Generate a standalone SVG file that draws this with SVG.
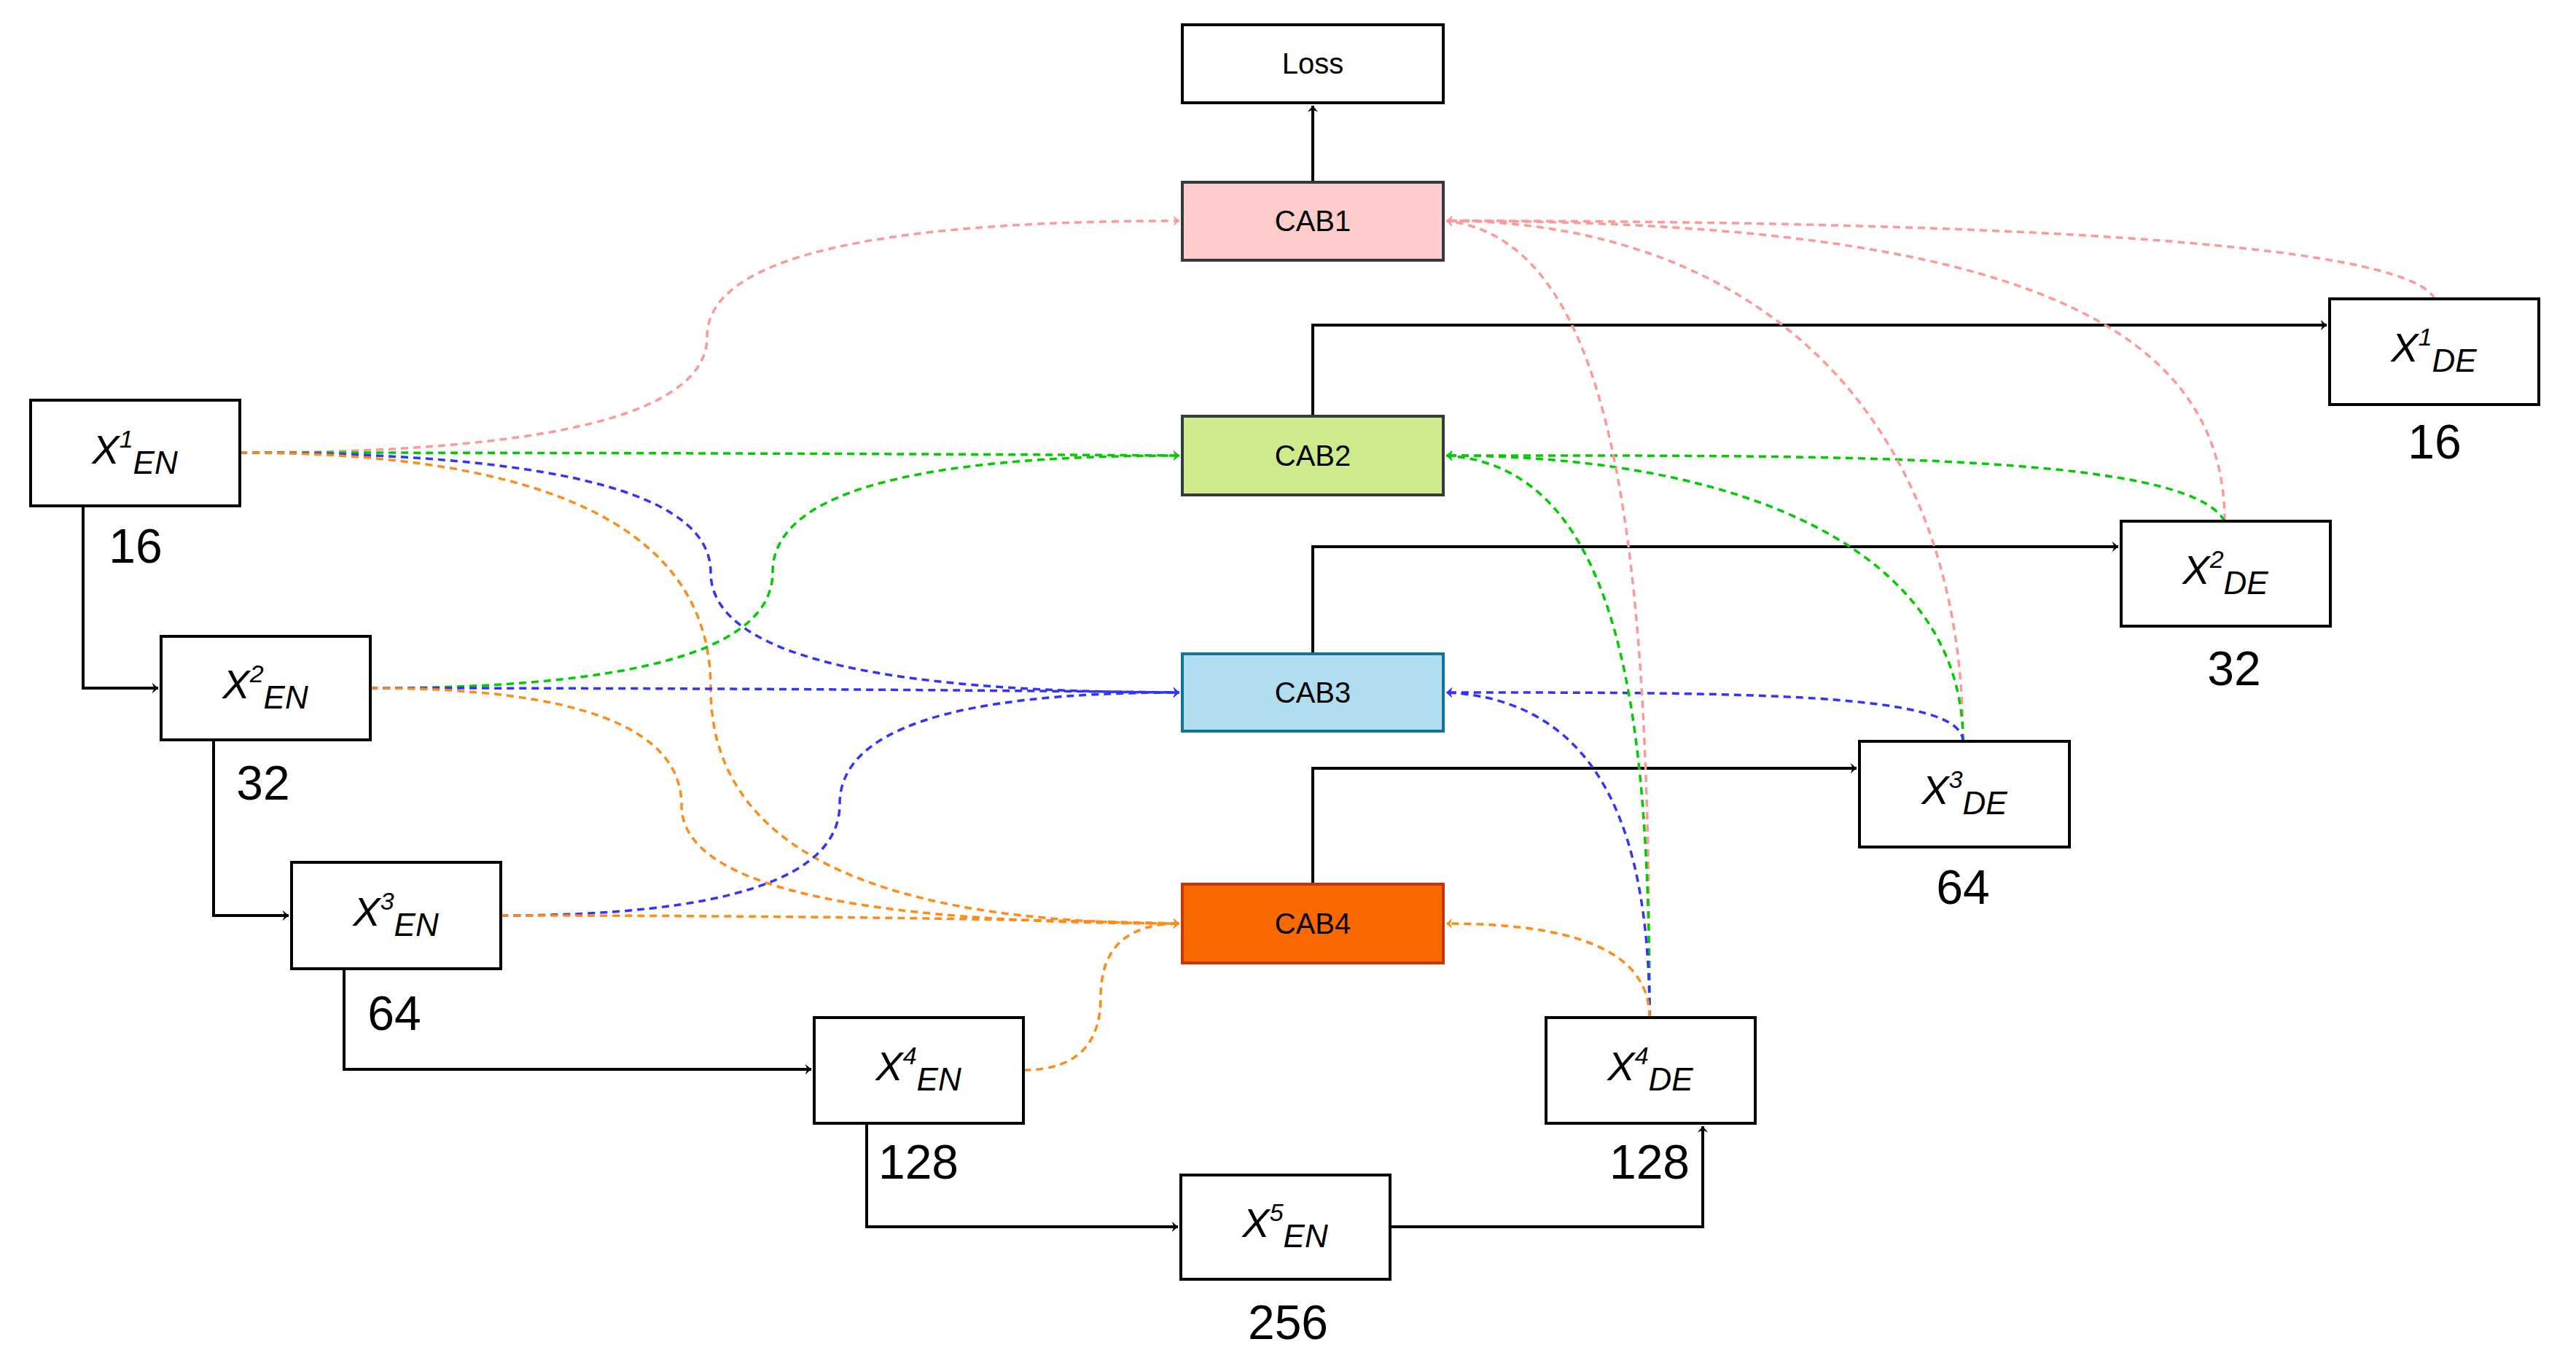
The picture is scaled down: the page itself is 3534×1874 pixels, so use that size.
<svg xmlns="http://www.w3.org/2000/svg" width="3534" height="1874" viewBox="0 0 3534 1874">
<style>
.box{fill:#fff;stroke:#000;stroke-width:4}
.lbl{font-family:"Liberation Sans",Arial,sans-serif;font-style:italic;font-size:56px;text-anchor:middle}
.cab{font-family:"Liberation Sans",Arial,sans-serif;font-size:40px;text-anchor:middle}
.num{font-family:"Liberation Sans",Arial,sans-serif;font-size:66px;text-anchor:middle}
.k{fill:none;stroke:#000;stroke-width:4}
.d{fill:none;stroke-width:3.5;stroke-dasharray:10 7}
.p{stroke:#ff9999}.g{stroke:#00cc00}.b{stroke:#3333ff}.o{stroke:#ff8c1a}
</style>
<defs>
<marker id="ak" viewBox="0 0 10 10" refX="9" refY="5" markerWidth="6" markerHeight="6" orient="auto" markerUnits="userSpaceOnUse" style="overflow:visible"><path d="M-14,-12 L0,0 L-14,12 L-9,0 Z" fill="#000" transform="translate(9,5)"/></marker>
<marker id="ap" viewBox="0 0 10 10" refX="9" refY="5" markerWidth="6" markerHeight="6" orient="auto" markerUnits="userSpaceOnUse" style="overflow:visible"><path d="M-14,-12 L0,0 L-14,12 L-9,0 Z" fill="#ff9999" transform="translate(9,5)"/></marker>
<marker id="ag" viewBox="0 0 10 10" refX="9" refY="5" markerWidth="6" markerHeight="6" orient="auto" markerUnits="userSpaceOnUse" style="overflow:visible"><path d="M-14,-12 L0,0 L-14,12 L-9,0 Z" fill="#00cc00" transform="translate(9,5)"/></marker>
<marker id="ab" viewBox="0 0 10 10" refX="9" refY="5" markerWidth="6" markerHeight="6" orient="auto" markerUnits="userSpaceOnUse" style="overflow:visible"><path d="M-14,-12 L0,0 L-14,12 L-9,0 Z" fill="#3333ff" transform="translate(9,5)"/></marker>
<marker id="ao" viewBox="0 0 10 10" refX="9" refY="5" markerWidth="6" markerHeight="6" orient="auto" markerUnits="userSpaceOnUse" style="overflow:visible"><path d="M-14,-12 L0,0 L-14,12 L-9,0 Z" fill="#ff8c1a" transform="translate(9,5)"/></marker>
</defs>
<rect width="3534" height="1874" fill="#fff"/>
<g id="connectors">
<path class="k" d="M1801,250 V145" marker-end="url(#ak)"/>
<path class="k" d="M114,694 V944 H217" marker-end="url(#ak)"/>
<path class="k" d="M293,1015 V1256 H396" marker-end="url(#ak)"/>
<path class="k" d="M472,1329 V1467 H1113" marker-end="url(#ak)"/>
<path class="k" d="M1189,1541 V1683 H1616" marker-end="url(#ak)"/>
<path class="k" d="M1907,1683 H2336 V1545" marker-end="url(#ak)"/>
<path class="k" d="M1801,571 V446 H3192" marker-end="url(#ak)"/>
<path class="k" d="M1801,897 V750 H2906" marker-end="url(#ak)"/>
<path class="k" d="M1801,1213 V1054 H2547" marker-end="url(#ak)"/>
<!-- encoder to CAB -->
<path class="d p" d="M329,621 Q970,621 970,462 Q970,303 1618,303" marker-end="url(#ap)"/>
<path class="d g" d="M329,621 Q1000,621 1618,625" marker-end="url(#ag)"/>
<path class="d b" d="M329,621 Q975,621 975,785 Q975,950 1618,950" marker-end="url(#ab)"/>
<path class="d o" d="M329,621 Q975,621 975,944 Q975,1267 1618,1267" marker-end="url(#ao)"/>
<path class="d g" d="M508,944 Q1060,944 1060,785 Q1060,625 1618,625" marker-end="url(#ag)"/>
<path class="d b" d="M508,944 Q1100,944 1618,950" marker-end="url(#ab)"/>
<path class="d o" d="M508,944 Q935,944 935,1105 Q935,1267 1618,1267" marker-end="url(#ao)"/>
<path class="d b" d="M687,1256 Q1152,1256 1152,1103 Q1152,950 1618,950" marker-end="url(#ab)"/>
<path class="d o" d="M687,1256 Q1200,1256 1618,1267" marker-end="url(#ao)"/>
<path class="d o" d="M1404,1468 Q1510,1468 1510,1368 Q1510,1267 1618,1267" marker-end="url(#ao)"/>
<!-- decoder to CAB -->
<path class="d p" d="M3340,410 C3300,330 2700,303 1984,303" marker-end="url(#ap)"/>
<path class="d p" d="M3052,715 C3052,420 2700,303 1984,303" marker-end="url(#ap)"/>
<path class="d g" d="M3052,715 C3000,620 2500,625 1984,625" marker-end="url(#ag)"/>
<path class="d p" d="M2693,1017 C2693,560 2400,303 1984,303" marker-end="url(#ap)"/>
<path class="d g" d="M2693,1017 C2693,760 2400,625 1984,625" marker-end="url(#ag)"/>
<path class="d b" d="M2693,1017 C2693,950 2400,950 1984,950" marker-end="url(#ab)"/>
<path class="d p" d="M2263,1396 C2263,800 2230,330 1984,303" marker-end="url(#ap)"/>
<path class="d g" d="M2263,1396 C2263,1000 2230,640 1984,625" marker-end="url(#ag)"/>
<path class="d b" d="M2263,1396 C2263,1150 2200,960 1984,950" marker-end="url(#ab)"/>
<path class="d o" d="M2263,1396 C2263,1300 2150,1267 1984,1267" marker-end="url(#ao)"/>
</g>
<g id="Loss"><rect class="box" x="1622" y="34" width="358" height="107"/><text class="cab" x="1801" y="101">Loss</text></g>
<g id="CAB1"><rect x="1622" y="250" width="358" height="107" fill="#ffcccc" stroke="#36393d" stroke-width="4"/><text class="cab" x="1801" y="317">CAB1</text></g>
<g id="CAB2"><rect x="1622" y="571" width="358" height="108" fill="#cdeb8b" stroke="#36393d" stroke-width="4"/><text class="cab" x="1801" y="639">CAB2</text></g>
<g id="CAB3"><rect x="1622" y="897" width="358" height="106" fill="#b1ddf0" stroke="#10739e" stroke-width="4"/><text class="cab" x="1801" y="964">CAB3</text></g>
<g id="CAB4"><rect x="1622" y="1213" width="358" height="108" fill="#fa6800" stroke="#c73500" stroke-width="4"/><text class="cab" x="1801" y="1281">CAB4</text></g>
<g id="X1EN"><rect class="box" x="42" y="549" width="287" height="145"/><text class="lbl" x="185" y="636">X<tspan font-size="34" dy="-22">1</tspan><tspan font-size="44" dy="36">EN</tspan></text><text class="num" x="186" y="772">16</text></g>
<g id="X2EN"><rect class="box" x="221" y="873" width="287" height="142"/><text class="lbl" x="364" y="958">X<tspan font-size="34" dy="-22">2</tspan><tspan font-size="44" dy="36">EN</tspan></text><text class="num" x="361" y="1097">32</text></g>
<g id="X3EN"><rect class="box" x="400" y="1183" width="287" height="146"/><text class="lbl" x="543" y="1270">X<tspan font-size="34" dy="-22">3</tspan><tspan font-size="44" dy="36">EN</tspan></text><text class="num" x="541" y="1413">64</text></g>
<g id="X4EN"><rect class="box" x="1117" y="1396" width="287" height="145"/><text class="lbl" x="1260" y="1482">X<tspan font-size="34" dy="-22">4</tspan><tspan font-size="44" dy="36">EN</tspan></text><text class="num" x="1260" y="1617">128</text></g>
<g id="X5EN"><rect class="box" x="1620" y="1612" width="287" height="143"/><text class="lbl" x="1763" y="1697">X<tspan font-size="34" dy="-22">5</tspan><tspan font-size="44" dy="36">EN</tspan></text><text class="num" x="1767" y="1837">256</text></g>
<g id="X4DE"><rect class="box" x="2121" y="1396" width="287" height="145"/><text class="lbl" x="2264" y="1482">X<tspan font-size="34" dy="-22">4</tspan><tspan font-size="44" dy="36">DE</tspan></text><text class="num" x="2263" y="1617">128</text></g>
<g id="X3DE"><rect class="box" x="2551" y="1017" width="288" height="145"/><text class="lbl" x="2695" y="1103">X<tspan font-size="34" dy="-22">3</tspan><tspan font-size="44" dy="36">DE</tspan></text><text class="num" x="2693" y="1240">64</text></g>
<g id="X2DE"><rect class="box" x="2910" y="715" width="287" height="144"/><text class="lbl" x="3053" y="801">X<tspan font-size="34" dy="-22">2</tspan><tspan font-size="44" dy="36">DE</tspan></text><text class="num" x="3065" y="940">32</text></g>
<g id="X1DE"><rect class="box" x="3196" y="410" width="287" height="145"/><text class="lbl" x="3339" y="496">X<tspan font-size="34" dy="-22">1</tspan><tspan font-size="44" dy="36">DE</tspan></text><text class="num" x="3340" y="629">16</text></g>
</svg>
